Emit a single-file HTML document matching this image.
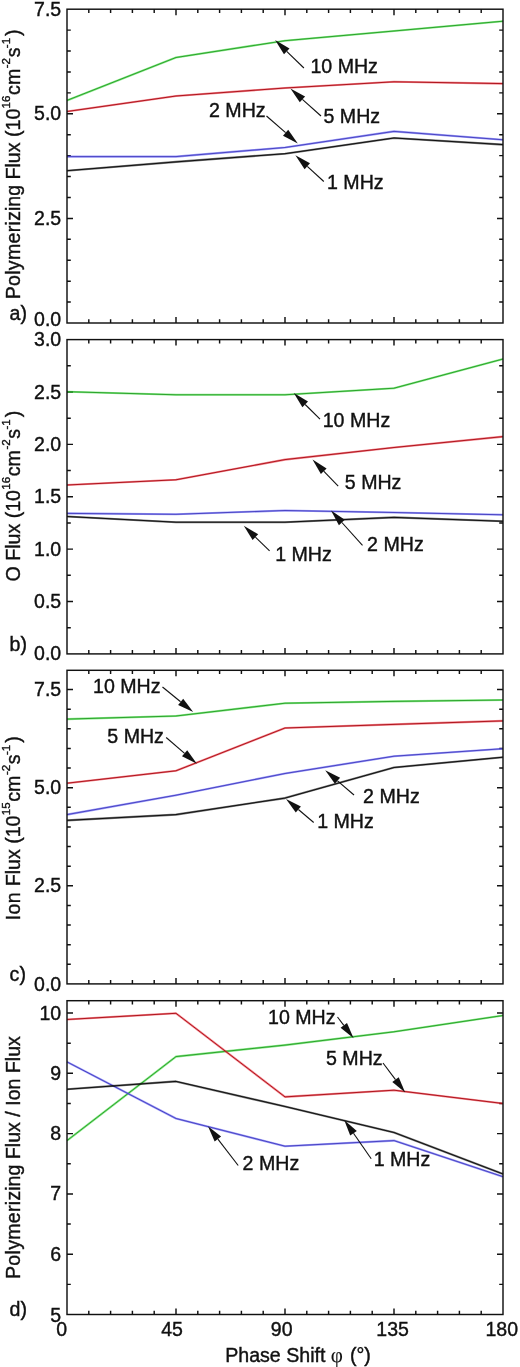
<!DOCTYPE html>
<html lang="en"><head><meta charset="utf-8"><title>Flux vs Phase Shift</title>
<style>html,body{margin:0;padding:0;background:#fff}body{width:520px;height:1367px;overflow:hidden}svg text{white-space:pre;stroke:#111;stroke-width:0.4px}</style>
</head><body>
<svg width="520" height="1367" viewBox="0 0 520 1367" style="display:block" font-family='"Liberation Sans", Arial, Helvetica, sans-serif'>
<rect width="520" height="1367" fill="#fff"/>
<path d="M88.80,9.2v3.8M88.80,323.0v-3.8M110.60,9.2v3.8M110.60,323.0v-3.8M132.40,9.2v3.8M132.40,323.0v-3.8M154.20,9.2v3.8M154.20,323.0v-3.8M176.00,9.2v6M176.00,323.0v-6M197.80,9.2v3.8M197.80,323.0v-3.8M219.60,9.2v3.8M219.60,323.0v-3.8M241.40,9.2v3.8M241.40,323.0v-3.8M263.20,9.2v3.8M263.20,323.0v-3.8M285.00,9.2v6M285.00,323.0v-6M306.80,9.2v3.8M306.80,323.0v-3.8M328.60,9.2v3.8M328.60,323.0v-3.8M350.40,9.2v3.8M350.40,323.0v-3.8M372.20,9.2v3.8M372.20,323.0v-3.8M394.00,9.2v6M394.00,323.0v-6M415.80,9.2v3.8M415.80,323.0v-3.8M437.60,9.2v3.8M437.60,323.0v-3.8M459.40,9.2v3.8M459.40,323.0v-3.8M481.20,9.2v3.8M481.20,323.0v-3.8M67.0,302.08h3.8M503.0,302.08h-3.8M67.0,281.16h3.8M503.0,281.16h-3.8M67.0,260.24h3.8M503.0,260.24h-3.8M67.0,239.32h3.8M503.0,239.32h-3.8M67.0,218.40h6M503.0,218.40h-6M67.0,197.48h3.8M503.0,197.48h-3.8M67.0,176.56h3.8M503.0,176.56h-3.8M67.0,155.64h3.8M503.0,155.64h-3.8M67.0,134.72h3.8M503.0,134.72h-3.8M67.0,113.80h6M503.0,113.80h-6M67.0,92.88h3.8M503.0,92.88h-3.8M67.0,71.96h3.8M503.0,71.96h-3.8M67.0,51.04h3.8M503.0,51.04h-3.8M67.0,30.12h3.8M503.0,30.12h-3.8" stroke="#111111" stroke-width="1.45" fill="none"/>
<polyline points="67.0,100.4 176.0,57.5 285.0,40.7 394.0,31.0 503.0,21.2" fill="none" stroke="#24d424" stroke-width="2.1" stroke-opacity="0.55" stroke-linejoin="round"/>
<polyline points="67.0,100.4 176.0,57.5 285.0,40.7 394.0,31.0 503.0,21.2" fill="none" stroke="#2ca42c" stroke-width="1.0" stroke-linejoin="round"/>
<polyline points="67.0,111.5 176.0,96.0 285.0,88.0 394.0,81.8 503.0,83.6" fill="none" stroke="#e82030" stroke-width="2.1" stroke-opacity="0.55" stroke-linejoin="round"/>
<polyline points="67.0,111.5 176.0,96.0 285.0,88.0 394.0,81.8 503.0,83.6" fill="none" stroke="#b0161e" stroke-width="1.0" stroke-linejoin="round"/>
<polyline points="67.0,156.6 176.0,156.6 285.0,147.5 394.0,131.4 503.0,139.8" fill="none" stroke="#4848f0" stroke-width="2.1" stroke-opacity="0.55" stroke-linejoin="round"/>
<polyline points="67.0,156.6 176.0,156.6 285.0,147.5 394.0,131.4 503.0,139.8" fill="none" stroke="#4a44c4" stroke-width="1.0" stroke-linejoin="round"/>
<polyline points="67.0,170.7 176.0,161.9 285.0,153.7 394.0,138.0 503.0,144.6" fill="none" stroke="#000000" stroke-width="2.1" stroke-opacity="0.55" stroke-linejoin="round"/>
<polyline points="67.0,170.7 176.0,161.9 285.0,153.7 394.0,138.0 503.0,144.6" fill="none" stroke="#101010" stroke-width="1.0" stroke-linejoin="round"/>
<rect x="67.0" y="9.2" width="436.0" height="313.8" fill="none" stroke="#111111" stroke-width="1.45"/>
<text x="61.2" y="325.8" font-size="19.5" text-anchor="end" fill="#111111">0.0</text>
<text x="61.2" y="224.9" font-size="19.5" text-anchor="end" fill="#111111">2.5</text>
<text x="61.2" y="120.3" font-size="19.5" text-anchor="end" fill="#111111">5.0</text>
<text x="61.2" y="15.7" font-size="19.5" text-anchor="end" fill="#111111">7.5</text>
<text x="9.6" y="320.2" font-size="19.6" fill="#111111">a)</text>
<path d="M88.80,339.6v3.8M88.80,653.9v-3.8M110.60,339.6v3.8M110.60,653.9v-3.8M132.40,339.6v3.8M132.40,653.9v-3.8M154.20,339.6v3.8M154.20,653.9v-3.8M176.00,339.6v6M176.00,653.9v-6M197.80,339.6v3.8M197.80,653.9v-3.8M219.60,339.6v3.8M219.60,653.9v-3.8M241.40,339.6v3.8M241.40,653.9v-3.8M263.20,339.6v3.8M263.20,653.9v-3.8M285.00,339.6v6M285.00,653.9v-6M306.80,339.6v3.8M306.80,653.9v-3.8M328.60,339.6v3.8M328.60,653.9v-3.8M350.40,339.6v3.8M350.40,653.9v-3.8M372.20,339.6v3.8M372.20,653.9v-3.8M394.00,339.6v6M394.00,653.9v-6M415.80,339.6v3.8M415.80,653.9v-3.8M437.60,339.6v3.8M437.60,653.9v-3.8M459.40,339.6v3.8M459.40,653.9v-3.8M481.20,339.6v3.8M481.20,653.9v-3.8M67.0,627.71h3.8M503.0,627.71h-3.8M67.0,601.51h6M503.0,601.51h-6M67.0,575.32h3.8M503.0,575.32h-3.8M67.0,549.13h6M503.0,549.13h-6M67.0,522.94h3.8M503.0,522.94h-3.8M67.0,496.75h6M503.0,496.75h-6M67.0,470.55h3.8M503.0,470.55h-3.8M67.0,444.36h6M503.0,444.36h-6M67.0,418.17h3.8M503.0,418.17h-3.8M67.0,391.97h6M503.0,391.97h-6M67.0,365.78h3.8M503.0,365.78h-3.8" stroke="#111111" stroke-width="1.45" fill="none"/>
<polyline points="67.0,391.7 176.0,394.8 285.0,394.8 394.0,388.2 503.0,359.0" fill="none" stroke="#24d424" stroke-width="2.1" stroke-opacity="0.55" stroke-linejoin="round"/>
<polyline points="67.0,391.7 176.0,394.8 285.0,394.8 394.0,388.2 503.0,359.0" fill="none" stroke="#2ca42c" stroke-width="1.0" stroke-linejoin="round"/>
<polyline points="67.0,485.0 176.0,479.8 285.0,459.6 394.0,447.5 503.0,436.6" fill="none" stroke="#e82030" stroke-width="2.1" stroke-opacity="0.55" stroke-linejoin="round"/>
<polyline points="67.0,485.0 176.0,479.8 285.0,459.6 394.0,447.5 503.0,436.6" fill="none" stroke="#b0161e" stroke-width="1.0" stroke-linejoin="round"/>
<polyline points="67.0,513.4 176.0,514.3 285.0,510.5 394.0,512.5 503.0,514.8" fill="none" stroke="#4848f0" stroke-width="2.1" stroke-opacity="0.55" stroke-linejoin="round"/>
<polyline points="67.0,513.4 176.0,514.3 285.0,510.5 394.0,512.5 503.0,514.8" fill="none" stroke="#4a44c4" stroke-width="1.0" stroke-linejoin="round"/>
<polyline points="67.0,516.5 176.0,522.2 285.0,522.2 394.0,517.4 503.0,521.3" fill="none" stroke="#000000" stroke-width="2.1" stroke-opacity="0.55" stroke-linejoin="round"/>
<polyline points="67.0,516.5 176.0,522.2 285.0,522.2 394.0,517.4 503.0,521.3" fill="none" stroke="#101010" stroke-width="1.0" stroke-linejoin="round"/>
<rect x="67.0" y="339.6" width="436.0" height="314.29999999999995" fill="none" stroke="#111111" stroke-width="1.45"/>
<text x="61.2" y="660.0" font-size="19.5" text-anchor="end" fill="#111111">0.0</text>
<text x="61.2" y="608.0" font-size="19.5" text-anchor="end" fill="#111111">0.5</text>
<text x="61.2" y="555.6" font-size="19.5" text-anchor="end" fill="#111111">1.0</text>
<text x="61.2" y="503.2" font-size="19.5" text-anchor="end" fill="#111111">1.5</text>
<text x="61.2" y="450.9" font-size="19.5" text-anchor="end" fill="#111111">2.0</text>
<text x="61.2" y="398.5" font-size="19.5" text-anchor="end" fill="#111111">2.5</text>
<text x="61.2" y="346.1" font-size="19.5" text-anchor="end" fill="#111111">3.0</text>
<text x="9.6" y="650.7" font-size="19.6" fill="#111111">b)</text>
<path d="M88.80,670.3v3.8M88.80,983.9v-3.8M110.60,670.3v3.8M110.60,983.9v-3.8M132.40,670.3v3.8M132.40,983.9v-3.8M154.20,670.3v3.8M154.20,983.9v-3.8M176.00,670.3v6M176.00,983.9v-6M197.80,670.3v3.8M197.80,983.9v-3.8M219.60,670.3v3.8M219.60,983.9v-3.8M241.40,670.3v3.8M241.40,983.9v-3.8M263.20,670.3v3.8M263.20,983.9v-3.8M285.00,670.3v6M285.00,983.9v-6M306.80,670.3v3.8M306.80,983.9v-3.8M328.60,670.3v3.8M328.60,983.9v-3.8M350.40,670.3v3.8M350.40,983.9v-3.8M372.20,670.3v3.8M372.20,983.9v-3.8M394.00,670.3v6M394.00,983.9v-6M415.80,670.3v3.8M415.80,983.9v-3.8M437.60,670.3v3.8M437.60,983.9v-3.8M459.40,670.3v3.8M459.40,983.9v-3.8M481.20,670.3v3.8M481.20,983.9v-3.8M67.0,964.27h3.8M503.0,964.27h-3.8M67.0,944.65h3.8M503.0,944.65h-3.8M67.0,925.02h3.8M503.0,925.02h-3.8M67.0,905.40h3.8M503.0,905.40h-3.8M67.0,885.77h6M503.0,885.77h-6M67.0,866.15h3.8M503.0,866.15h-3.8M67.0,846.52h3.8M503.0,846.52h-3.8M67.0,826.90h3.8M503.0,826.90h-3.8M67.0,807.27h3.8M503.0,807.27h-3.8M67.0,787.65h6M503.0,787.65h-6M67.0,768.02h3.8M503.0,768.02h-3.8M67.0,748.40h3.8M503.0,748.40h-3.8M67.0,728.77h3.8M503.0,728.77h-3.8M67.0,709.15h3.8M503.0,709.15h-3.8M67.0,689.52h6M503.0,689.52h-6" stroke="#111111" stroke-width="1.45" fill="none"/>
<polyline points="67.0,719.1 176.0,716.0 285.0,703.2 394.0,701.4 503.0,700.0" fill="none" stroke="#24d424" stroke-width="2.1" stroke-opacity="0.55" stroke-linejoin="round"/>
<polyline points="67.0,719.1 176.0,716.0 285.0,703.2 394.0,701.4 503.0,700.0" fill="none" stroke="#2ca42c" stroke-width="1.0" stroke-linejoin="round"/>
<polyline points="67.0,783.2 176.0,770.8 285.0,728.0 394.0,724.4 503.0,720.9" fill="none" stroke="#e82030" stroke-width="2.1" stroke-opacity="0.55" stroke-linejoin="round"/>
<polyline points="67.0,783.2 176.0,770.8 285.0,728.0 394.0,724.4 503.0,720.9" fill="none" stroke="#b0161e" stroke-width="1.0" stroke-linejoin="round"/>
<polyline points="67.0,814.6 176.0,795.2 285.0,773.5 394.0,756.2 503.0,748.7" fill="none" stroke="#4848f0" stroke-width="2.1" stroke-opacity="0.55" stroke-linejoin="round"/>
<polyline points="67.0,814.6 176.0,795.2 285.0,773.5 394.0,756.2 503.0,748.7" fill="none" stroke="#4a44c4" stroke-width="1.0" stroke-linejoin="round"/>
<polyline points="67.0,820.4 176.0,814.6 285.0,798.1 394.0,767.5 503.0,757.2" fill="none" stroke="#000000" stroke-width="2.1" stroke-opacity="0.55" stroke-linejoin="round"/>
<polyline points="67.0,820.4 176.0,814.6 285.0,798.1 394.0,767.5 503.0,757.2" fill="none" stroke="#101010" stroke-width="1.0" stroke-linejoin="round"/>
<rect x="67.0" y="670.3" width="436.0" height="313.6" fill="none" stroke="#111111" stroke-width="1.45"/>
<text x="61.2" y="991.2" font-size="19.5" text-anchor="end" fill="#111111">0.0</text>
<text x="61.2" y="892.3" font-size="19.5" text-anchor="end" fill="#111111">2.5</text>
<text x="61.2" y="794.1" font-size="19.5" text-anchor="end" fill="#111111">5.0</text>
<text x="61.2" y="696.0" font-size="19.5" text-anchor="end" fill="#111111">7.5</text>
<text x="9.6" y="980.7" font-size="19.6" fill="#111111">c)</text>
<path d="M88.80,1000.7v3.8M88.80,1314.5v-3.8M110.60,1000.7v3.8M110.60,1314.5v-3.8M132.40,1000.7v3.8M132.40,1314.5v-3.8M154.20,1000.7v3.8M154.20,1314.5v-3.8M176.00,1000.7v6M176.00,1314.5v-6M197.80,1000.7v3.8M197.80,1314.5v-3.8M219.60,1000.7v3.8M219.60,1314.5v-3.8M241.40,1000.7v3.8M241.40,1314.5v-3.8M263.20,1000.7v3.8M263.20,1314.5v-3.8M285.00,1000.7v6M285.00,1314.5v-6M306.80,1000.7v3.8M306.80,1314.5v-3.8M328.60,1000.7v3.8M328.60,1314.5v-3.8M350.40,1000.7v3.8M350.40,1314.5v-3.8M372.20,1000.7v3.8M372.20,1314.5v-3.8M394.00,1000.7v6M394.00,1314.5v-6M415.80,1000.7v3.8M415.80,1314.5v-3.8M437.60,1000.7v3.8M437.60,1314.5v-3.8M459.40,1000.7v3.8M459.40,1314.5v-3.8M481.20,1000.7v3.8M481.20,1314.5v-3.8M67.0,1284.35h3.8M503.0,1284.35h-3.8M67.0,1254.20h6M503.0,1254.20h-6M67.0,1224.05h3.8M503.0,1224.05h-3.8M67.0,1193.90h6M503.0,1193.90h-6M67.0,1163.75h3.8M503.0,1163.75h-3.8M67.0,1133.60h6M503.0,1133.60h-6M67.0,1103.45h3.8M503.0,1103.45h-3.8M67.0,1073.30h6M503.0,1073.30h-6M67.0,1043.15h3.8M503.0,1043.15h-3.8M67.0,1013.00h6M503.0,1013.00h-6" stroke="#111111" stroke-width="1.45" fill="none"/>
<polyline points="67.0,1140.6 176.0,1056.6 285.0,1045.1 394.0,1031.8 503.0,1015.5" fill="none" stroke="#24d424" stroke-width="2.1" stroke-opacity="0.55" stroke-linejoin="round"/>
<polyline points="67.0,1140.6 176.0,1056.6 285.0,1045.1 394.0,1031.8 503.0,1015.5" fill="none" stroke="#2ca42c" stroke-width="1.0" stroke-linejoin="round"/>
<polyline points="67.0,1019.5 176.0,1013.3 285.0,1096.9 394.0,1090.2 503.0,1103.5" fill="none" stroke="#e82030" stroke-width="2.1" stroke-opacity="0.55" stroke-linejoin="round"/>
<polyline points="67.0,1019.5 176.0,1013.3 285.0,1096.9 394.0,1090.2 503.0,1103.5" fill="none" stroke="#b0161e" stroke-width="1.0" stroke-linejoin="round"/>
<polyline points="67.0,1061.9 176.0,1118.5 285.0,1146.2 394.0,1140.6 503.0,1176.7" fill="none" stroke="#4848f0" stroke-width="2.1" stroke-opacity="0.55" stroke-linejoin="round"/>
<polyline points="67.0,1061.9 176.0,1118.5 285.0,1146.2 394.0,1140.6 503.0,1176.7" fill="none" stroke="#4a44c4" stroke-width="1.0" stroke-linejoin="round"/>
<polyline points="67.0,1089.3 176.0,1081.4 285.0,1106.5 394.0,1132.5 503.0,1174.0" fill="none" stroke="#000000" stroke-width="2.1" stroke-opacity="0.55" stroke-linejoin="round"/>
<polyline points="67.0,1089.3 176.0,1081.4 285.0,1106.5 394.0,1132.5 503.0,1174.0" fill="none" stroke="#101010" stroke-width="1.0" stroke-linejoin="round"/>
<rect x="67.0" y="1000.7" width="436.0" height="313.79999999999995" fill="none" stroke="#111111" stroke-width="1.45"/>
<text x="61.2" y="1321.7" font-size="19.5" text-anchor="end" fill="#111111">5</text>
<text x="61.2" y="1260.7" font-size="19.5" text-anchor="end" fill="#111111">6</text>
<text x="61.2" y="1200.4" font-size="19.5" text-anchor="end" fill="#111111">7</text>
<text x="61.2" y="1140.1" font-size="19.5" text-anchor="end" fill="#111111">8</text>
<text x="61.2" y="1079.8" font-size="19.5" text-anchor="end" fill="#111111">9</text>
<text x="61.2" y="1019.5" font-size="19.5" text-anchor="end" fill="#111111">10</text>
<text x="9.6" y="1316" font-size="19.6" fill="#111111">d)</text>
<text x="61.7" y="1336" font-size="19.5" text-anchor="middle" fill="#111111">0</text>
<text x="172.0" y="1336" font-size="19.5" text-anchor="middle" fill="#111111">45</text>
<text x="281.7" y="1336" font-size="19.5" text-anchor="middle" fill="#111111">90</text>
<text x="392.6" y="1336" font-size="19.5" text-anchor="middle" fill="#111111">135</text>
<text x="501.8" y="1336" font-size="19.5" text-anchor="middle" fill="#111111">180</text>
<text x="225.2" y="1361.8" font-size="19.6" fill="#111111">Phase Shift <tspan font-family='"Liberation Serif", "DejaVu Serif", serif' font-size="21" style="stroke-width:0.1px">φ</tspan><tspan dx="1.5"> (°)</tspan></text>
<text transform="translate(20,299.3) rotate(-90)" font-size="19.6" fill="#111111"><tspan letter-spacing="0.28">Polymeri</tspan>zing Flux (10<tspan font-size="11.5" dy="-10" dx="0.3">16</tspan><tspan dy="10" dx="0.7">cm</tspan><tspan font-size="11.5" dy="-10" dx="0.5">-2</tspan><tspan dy="10" dx="0.7">s</tspan><tspan font-size="11.5" dy="-10" dx="-0.6">-1</tspan><tspan dy="10" dx="1.9">)</tspan></text>
<text transform="translate(20,581.5) rotate(-90)" font-size="19.6" fill="#111111">O Flux (10<tspan font-size="11.5" dy="-10" dx="0.3">16</tspan><tspan dy="10" dx="0.7">cm</tspan><tspan font-size="11.5" dy="-10" dx="0.5">-2</tspan><tspan dy="10" dx="0.7">s</tspan><tspan font-size="11.5" dy="-10" dx="-0.6">-1</tspan><tspan dy="10" dx="1.9">)</tspan></text>
<text transform="translate(20,920.2) rotate(-90)" font-size="19.6" fill="#111111"><tspan letter-spacing="0.3">Ion </tspan>Flux (10<tspan font-size="11.5" dy="-10" dx="0.3">15</tspan><tspan dy="10" dx="0.7">cm</tspan><tspan font-size="11.5" dy="-10" dx="0.5">-2</tspan><tspan dy="10" dx="0.7">s</tspan><tspan font-size="11.5" dy="-10" dx="-0.6">-1</tspan><tspan dy="10" dx="1.9">)</tspan></text>
<text transform="translate(20,1279) rotate(-90)" font-size="19.6" fill="#111111"><tspan letter-spacing="0.28">Polymeri</tspan>zing Flux / Ion Flux</text>
<line x1="303.9" y1="68.0" x2="286.7" y2="51.4" stroke="#111111" stroke-width="1.1"/>
<polygon points="275.1,40.1 289.5,48.5 284.0,54.2" fill="#111111"/>
<text x="310.4" y="72.6" font-size="19.6" fill="#111111">10 MHz</text>
<line x1="321.0" y1="116.0" x2="302.4" y2="99.3" stroke="#111111" stroke-width="1.1"/>
<polygon points="290.4,88.5 305.1,96.4 299.8,102.3" fill="#111111"/>
<text x="323.5" y="123" font-size="19.6" fill="#111111">5 MHz</text>
<line x1="266.5" y1="116.0" x2="285.6" y2="132.7" stroke="#111111" stroke-width="1.1"/>
<polygon points="297.8,143.4 283.0,135.7 288.2,129.7" fill="#111111"/>
<text x="209" y="117" font-size="19.6" fill="#111111">2 MHz</text>
<line x1="323.8" y1="181.5" x2="307.3" y2="166.3" stroke="#111111" stroke-width="1.1"/>
<polygon points="295.4,155.3 310.0,163.3 304.6,169.2" fill="#111111"/>
<text x="327" y="188.5" font-size="19.6" fill="#111111">1 MHz</text>
<line x1="320.0" y1="419.2" x2="305.2" y2="404.5" stroke="#111111" stroke-width="1.1"/>
<polygon points="293.8,393.0 308.0,401.6 302.4,407.3" fill="#111111"/>
<text x="322.7" y="426.75" font-size="19.6" fill="#111111">10 MHz</text>
<line x1="338.2" y1="486.2" x2="323.7" y2="471.2" stroke="#111111" stroke-width="1.1"/>
<polygon points="312.5,459.5 326.6,468.4 320.9,473.9" fill="#111111"/>
<text x="344.8" y="489.25" font-size="19.6" fill="#111111">5 MHz</text>
<line x1="269.6" y1="550.8" x2="255.4" y2="537.1" stroke="#111111" stroke-width="1.1"/>
<polygon points="243.8,525.8 258.2,534.2 252.6,539.9" fill="#111111"/>
<text x="275.2" y="560.9" font-size="19.6" fill="#111111">1 MHz</text>
<line x1="362.5" y1="545.3" x2="341.9" y2="522.5" stroke="#111111" stroke-width="1.1"/>
<polygon points="331.0,510.5 344.8,519.8 338.9,525.2" fill="#111111"/>
<text x="367.1" y="551.4" font-size="19.6" fill="#111111">2 MHz</text>
<line x1="162.5" y1="687.0" x2="180.6" y2="701.8" stroke="#111111" stroke-width="1.1"/>
<polygon points="193.2,712.0 178.1,704.9 183.2,698.7" fill="#111111"/>
<text x="93" y="692.6" font-size="19.6" fill="#111111">10 MHz</text>
<line x1="166.2" y1="737.5" x2="184.6" y2="753.3" stroke="#111111" stroke-width="1.1"/>
<polygon points="196.9,763.8 182.0,756.3 187.2,750.2" fill="#111111"/>
<text x="107.3" y="742.5" font-size="19.6" fill="#111111">5 MHz</text>
<line x1="354.0" y1="795.0" x2="337.5" y2="780.8" stroke="#111111" stroke-width="1.1"/>
<polygon points="325.2,770.2 340.1,777.7 334.9,783.8" fill="#111111"/>
<text x="363.1" y="803" font-size="19.6" fill="#111111">2 MHz</text>
<line x1="313.7" y1="822.5" x2="298.4" y2="809.5" stroke="#111111" stroke-width="1.1"/>
<polygon points="286.0,799.0 300.9,806.4 295.8,812.5" fill="#111111"/>
<text x="317.2" y="828.2" font-size="19.6" fill="#111111">1 MHz</text>
<line x1="337.5" y1="1017.0" x2="343.8" y2="1025.4" stroke="#111111" stroke-width="1.1"/>
<polygon points="353.6,1038.3 340.6,1027.8 347.0,1023.0" fill="#111111"/>
<text x="268" y="1024.2" font-size="19.6" fill="#111111">10 MHz</text>
<line x1="383.0" y1="1063.0" x2="395.5" y2="1079.6" stroke="#111111" stroke-width="1.1"/>
<polygon points="405.2,1092.5 392.3,1082.0 398.7,1077.2" fill="#111111"/>
<text x="326" y="1064.6" font-size="19.6" fill="#111111">5 MHz</text>
<line x1="238.2" y1="1165.5" x2="217.9" y2="1139.1" stroke="#111111" stroke-width="1.1"/>
<polygon points="208.0,1126.2 221.1,1136.6 214.7,1141.5" fill="#111111"/>
<text x="242.6" y="1169.5" font-size="19.6" fill="#111111">2 MHz</text>
<line x1="371.2" y1="1158.8" x2="353.5" y2="1133.3" stroke="#111111" stroke-width="1.1"/>
<polygon points="344.2,1120.0 356.8,1131.0 350.2,1135.6" fill="#111111"/>
<text x="373.7" y="1165.75" font-size="19.6" fill="#111111">1 MHz</text>
</svg>
</body></html>
